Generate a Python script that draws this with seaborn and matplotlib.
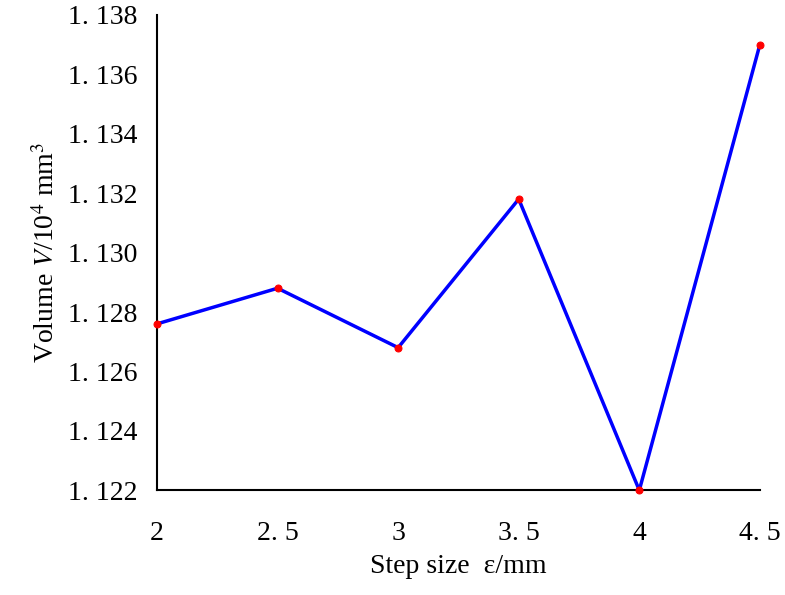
import matplotlib
matplotlib.use("Agg")
import matplotlib.pyplot as plt
import seaborn as sns
import pandas as pd

step = [2, 2.5, 3, 3.5, 4, 4.5]
volume = [1.1276, 1.1288, 1.1268, 1.1318, 1.1220, 1.1370]
xticks = [2, 2.5, 3, 3.5, 4, 4.5]
xlabels = ["2", "2. 5", "3", "3. 5", "4", "4. 5"]
yticks = [1.122, 1.124, 1.126, 1.128, 1.130, 1.132, 1.134, 1.136, 1.138]
ylabels = ["1. 122", "1. 124", "1. 126", "1. 128", "1. 130", "1. 132", "1. 134", "1. 136", "1. 138"]

sns.set_style("white")
plt.rcParams['font.family'] = ['Liberation Serif', 'DejaVu Serif']
plt.rcParams['mathtext.fontset'] = 'stix'
df = pd.DataFrame({"step": step, "volume": volume})
fig = plt.figure(figsize=(7.85, 5.95), dpi=100)
ax = fig.add_axes([0.2, 0.176, 0.768, 0.799])
sns.lineplot(data=df, x="step", y="volume", ax=ax, color="#0000ff", lw=2.5,
             marker="o", markersize=5, markerfacecolor="red", markeredgecolor="red", zorder=3)
ax.set_xlim(2, 4.5)
ax.set_ylim(1.122, 1.138)
ax.set_xticks(xticks, xlabels)
ax.set_yticks(yticks, ylabels)
for s in ["top", "right"]:
    ax.spines[s].set_visible(False)
for s in ["left", "bottom"]:
    ax.spines[s].set_color("black"); ax.spines[s].set_linewidth(1.5)
ax.tick_params(direction="out", length=4, width=1.2, labelsize=20, colors="black")
ax.tick_params(axis="x", pad=18)
ax.tick_params(axis="y", pad=10)
ax.set_xlabel("Step size  ε/mm", fontsize=20, color="black", labelpad=6)
ax.set_ylabel(r"Volume $V$/10$^4$ mm$^3$", fontsize=20, color="black", labelpad=6)
for m in ax.lines:
    m.set_clip_on(False)
fig.savefig("out.png", dpi=100)
